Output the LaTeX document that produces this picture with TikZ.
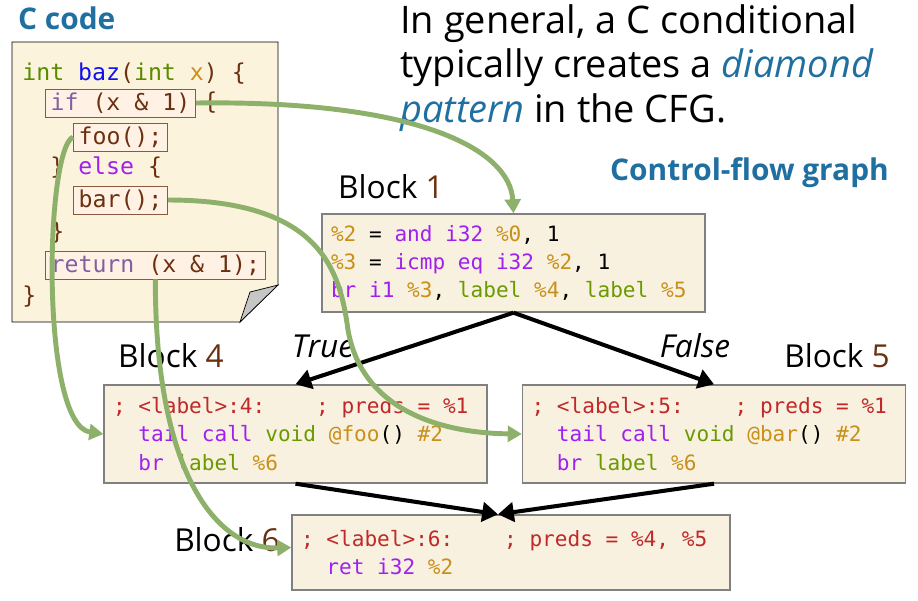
\documentclass[tikz,border=0pt]{standalone}
\usepackage{fontspec}
\setmainfont{Open Sans}
\setmonofont{DejaVu Sans Mono}
\usetikzlibrary{positioning,arrows.meta}
\definecolor{kwcol}{HTML}{A020F0}
\definecolor{valcol}{HTML}{C8901A}
\definecolor{lblcol}{HTML}{6A9A00}
\definecolor{pncol}{HTML}{6B3010}
\definecolor{cmtcol}{HTML}{C0282A}
\definecolor{typcol}{HTML}{5A8A00}
\definecolor{fncol}{HTML}{1010F0}
\definecolor{ctlcol}{HTML}{8060A0}
\definecolor{titlecol}{HTML}{1F6FA0}
\definecolor{paper}{HTML}{FBF3DC}
\definecolor{blockfill}{HTML}{F8F1DF}
\definecolor{flowgreen}{HTML}{8DB06A}
\newcommand{\kw}[1]{\textcolor{kwcol}{#1}}
\newcommand{\val}[1]{\textcolor{valcol}{#1}}
\newcommand{\lbl}[1]{\textcolor{lblcol}{#1}}
\newcommand{\pn}[1]{\textcolor{pncol}{#1}}
\newcommand{\cmt}[1]{\textcolor{cmtcol}{#1}}
\newcommand{\ind}{\phantom{xx}}
\newcommand{\monosp}{\spaceskip=0.602em\xspaceskip=0.602em\relax}

\begin{document}
\begin{tikzpicture}[
				x=0.02cm, y=-0.02cm,
				block/.style={rectangle, draw=gray, fill=blockfill, thick, align=left, inner xsep=0.18cm,
					minimum height=1.96cm, font=\ttfamily\fontsize{12}{16}\selectfont},
				codeline/.style={anchor=west, inner sep=0pt, font=\ttfamily\fontsize{13.2}{16}\selectfont, text=pncol},
				hilite/.style={anchor=west, draw=pncol!80, fill=orange!10, thin, inner xsep=3pt, inner ysep=2pt,
					font=\ttfamily\fontsize{13.2}{16}\selectfont, text=pncol},
				blocklabel/.style={font=\fontsize{18}{20}\selectfont},
				cfgedge/.style={line width=2.3pt, -{Triangle[length=9pt,width=11pt]}},
				mapedge/.style={line width=2.8pt, draw=flowgreen, -{Triangle[length=8pt,width=9pt]}},
				]
				\useasboundingbox (0,0) rectangle (918,600);
				%Titles
				\node[anchor=west, text=titlecol, font=\bfseries\fontsize{17}{20}\selectfont] (ctitle) at (12,18) {C code};
				\node[anchor=north west, align=left, inner sep=0pt, font=\fontsize{21.6}{25.5}\selectfont] (headline) at (400,4)
					{In general, a C conditional\\typically creates a \textcolor{titlecol}{\itshape diamond}\\\textcolor{titlecol}{\itshape pattern} in the CFG.};
				\node[anchor=east, text=titlecol, font=\bfseries\fontsize{17}{20}\selectfont] (cfgtitle) at (895,173) {Control-flow graph};

				%C code note
				\filldraw[draw=black, fill=paper, thin] (12,42) -- (278,42) -- (278,285) -- (240,322) -- (12,322) -- cycle;
				\filldraw[draw=black, fill=gray!45, thin] (278,285) -- (250,292) -- (240,322) -- cycle;
				\node[codeline] (l1) at (22,74) {\textcolor{typcol}{int} \textcolor{fncol}{baz}(\textcolor{typcol}{int} \val{x}) \{};
				\node[hilite] (ifbox) at (45,103) {\textcolor{ctlcol}{if} (x \& 1)};
				\node[codeline, right=4pt of ifbox] (l2) {\{};
				\node[hilite] (foobox) at (73,137) {foo();};
				\node[codeline] (l4) at (50,168) {\} \kw{else} \{};
				\node[hilite] (barbox) at (73,200) {bar();};
				\node[codeline] (l6) at (50,233) {\}};
				\node[hilite] (retbox) at (45,265) {\textcolor{ctlcol}{return} (x \& 1);};
				\node[codeline] (l8) at (22,297) {\}};

				%Blocks
				\node[block, text width=7.3cm] (b1) at (513.5,263)
					{\monosp\val{\%2} = \kw{and} \kw{i32} \val{\%0}, 1\\\val{\%3} = \kw{icmp} \kw{eq} \kw{i32} \val{\%2}, 1\\\kw{br} \kw{i1} \val{\%3}, \lbl{label} \val{\%4}, \lbl{label} \val{\%5}};
				\node[block, text width=7.3cm] (b4) at (295.5,434)
					{\monosp\cmt{; <label>:4:\ \ \ \ ; preds = \%1}\\\ind\kw{tail} \kw{call} \lbl{void} \val{@foo}() \val{\#2}\\\ind\kw{br} \lbl{label} \val{\%6}};
				\node[block, text width=7.3cm] (b5) at (714,434)
					{\monosp\cmt{; <label>:5:\ \ \ \ ; preds = \%1}\\\ind\kw{tail} \kw{call} \lbl{void} \val{@bar}() \val{\#2}\\\ind\kw{br} \lbl{label} \val{\%6}};
				\node[block, text width=8.4cm, minimum height=1.5cm] (b6) at (511,552.5)
					{\monosp\cmt{; <label>:6:\ \ \ \ ; preds = \%4, \%5}\\\ind\kw{ret} \kw{i32} \val{\%2}};

				\node[blocklabel, anchor=south west] (b1name) at (332,205) {Block \textcolor{pncol}{1}};
				\node[blocklabel, anchor=south west] (b4name) at (112,374) {Block \textcolor{pncol}{4}};
				\node[blocklabel, anchor=south east] (b5name) at (896,374) {Block \textcolor{pncol}{5}};
				\node[blocklabel, anchor=east] (b6name) at (286,540) {Block \textcolor{pncol}{6}};
				\node[font=\itshape\fontsize{18}{20}\selectfont] (truelbl) at (323,346) {True};
				\node[font=\itshape\fontsize{18}{20}\selectfont] (falselbl) at (695,346) {False};

				%Lines
				\draw[cfgedge] (b1.south) -- (b4.north);
				\draw[cfgedge] (b1.south) -- (b5.north);
				\draw[cfgedge] (b4.south) -- ([xshift=-0.26cm]b6.north);
				\draw[cfgedge] (b5.south) -- ([xshift=-0.26cm]b6.north);

				\draw[mapedge] (ifbox.east) .. controls (420,100) and (510,150) .. (b1.north);
				\draw[mapedge] (foobox.west) .. controls (45,150) and (40,425) .. (b4.west);
				\draw[mapedge] (barbox.east) .. controls (320,200) and (340,270) .. (348,330)
					.. controls (362,410) and (440,433) .. (b5.west);
				\draw[mapedge] (retbox.south) .. controls (155,470) and (215,550) .. ([yshift=0.1cm]b6.west);
			\end{tikzpicture}
\end{document}
